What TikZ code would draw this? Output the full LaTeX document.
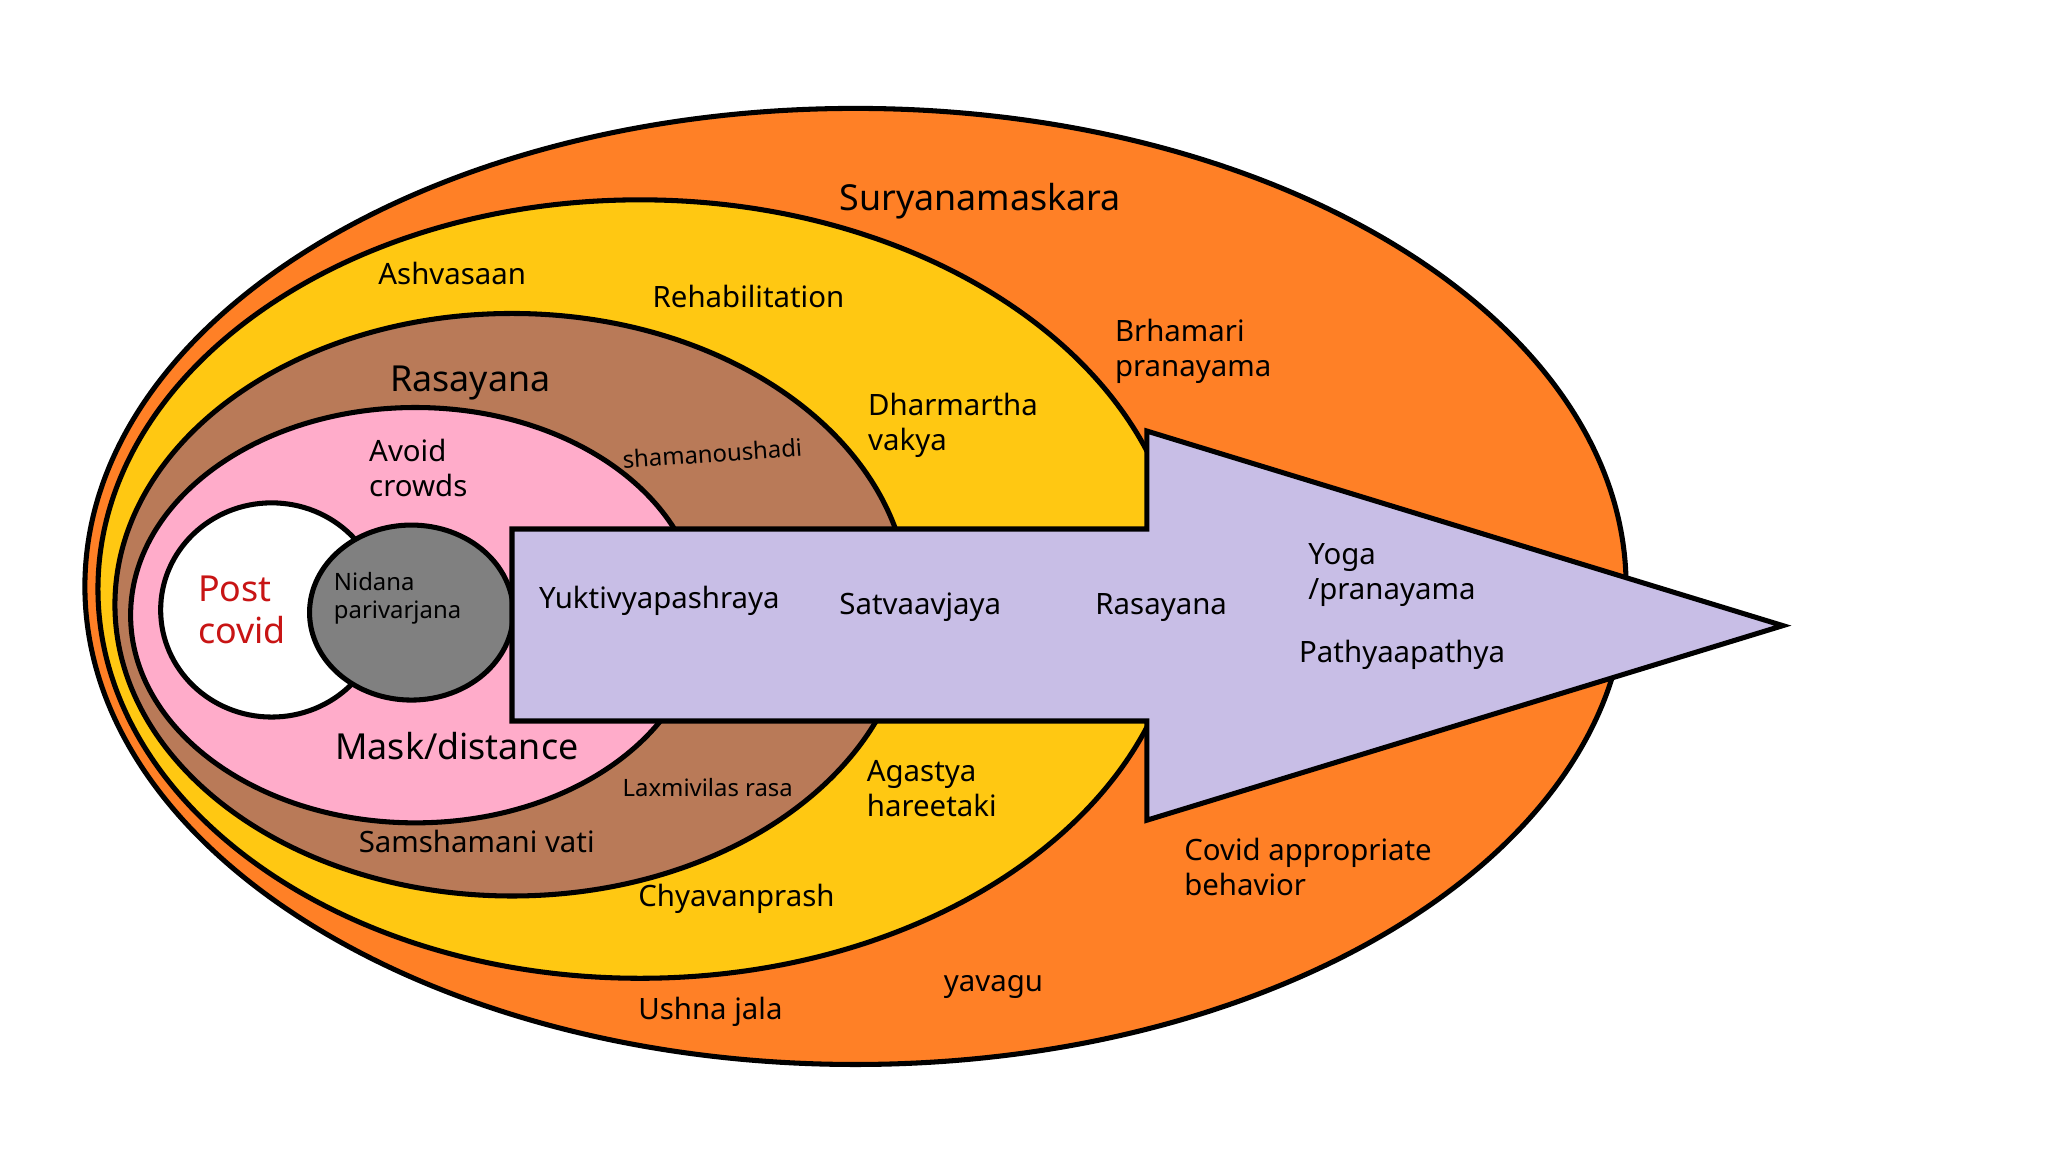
\documentclass[tikz,border=0pt]{standalone}
\usepackage{fontspec}
\setmainfont{Noto Sans}
\begin{document}
\begin{tikzpicture}[x=0.01cm,y=-0.01cm,
  lbl/.style={font=\bfseries\fontsize{6.4pt}{7.6pt}\selectfont,anchor=west,align=left,inner sep=0pt},
  big/.style={lbl,font=\bfseries\fontsize{7.8pt}{9pt}\selectfont},
  small/.style={lbl,font=\bfseries\fontsize{5.2pt}{6.2pt}\selectfont},
  ring/.style={draw=black,line width=1.1pt}]
\definecolor{corange}{RGB}{255,128,38}
\definecolor{cyellow}{RGB}{255,200,18}
\definecolor{cbrown}{RGB}{185,122,88}
\definecolor{cpink}{RGB}{255,172,202}
\definecolor{cgrey}{RGB}{128,128,128}
\definecolor{clav}{RGB}{200,190,230}
\definecolor{cred}{RGB}{200,20,20}
\fill[white] (0,0) rectangle (1568,882);
\useasboundingbox (0,0) rectangle (1568,882);
\draw[ring,fill=corange] (655,449) ellipse [x radius=590,y radius=366];
\draw[ring,fill=cyellow] (490,451) ellipse [x radius=415,y radius=298];
\draw[ring,fill=cbrown] (392,463) ellipse [x radius=304,y radius=223];
\draw[ring,fill=cpink] (318,471) ellipse [x radius=218,y radius=159];
\draw[ring,fill=white] (208,467) ellipse [x radius=85,y radius=82];
\draw[ring,fill=cgrey] (315,469) ellipse [x radius=78,y radius=67];
\draw[ring,fill=clav,line join=miter] (392,405) -- (878,405) -- (878,330) -- (1365,479) -- (878,628) -- (878,552) -- (392,552) -- cycle;
\node[big] (t1) at (642,154) {Suryanamaskara};
\node[lbl] (t2) at (289,209) {Ashvasaan};
\node[lbl] (t3) at (499,227) {Rehabilitation};
\node[lbl] (t4) at (853,269) {Brhamari\\pranayama};
\node[big] (t5) at (298,293) {Rasayana};
\node[lbl] (t6) at (664,326) {Dharmartha\\vakya};
\node[small,rotate=4] (t7) at (476,352) {shamanoushadi};
\node[lbl] (t8) at (282,358) {Avoid\\crowds};
\node[big,text=cred] (t9) at (151,467) {Post\\covid};
\node[small] (t10) at (255,458) {Nidana\\parivarjana};
\node[lbl] (t11) at (412,460) {Yuktivyapashraya};
\node[lbl] (t12) at (642,465) {Satvaavjaya};
\node[lbl] (t13) at (838,465) {Rasayana};
\node[lbl] (t14) at (1001,440) {Yoga\\/pranayama};
\node[lbl] (t15) at (994,501) {Pathyaapathya};
\node[big] (t16) at (256,571) {Mask/distance};
\node[small] (t17) at (476,603) {Laxmivilas rasa};
\node[lbl] (t18) at (663,604) {Agastya\\hareetaki};
\node[lbl] (t19) at (274,644) {Samshamani vati};
\node[lbl] (t20) at (906,664) {Covid appropriate\\behavior};
\node[lbl] (t21) at (488,688) {Chyavanprash};
\node[lbl] (t22) at (722,756) {yavagu};
\node[lbl] (t23) at (488,775) {Ushna jala};
\end{tikzpicture}
\end{document}
